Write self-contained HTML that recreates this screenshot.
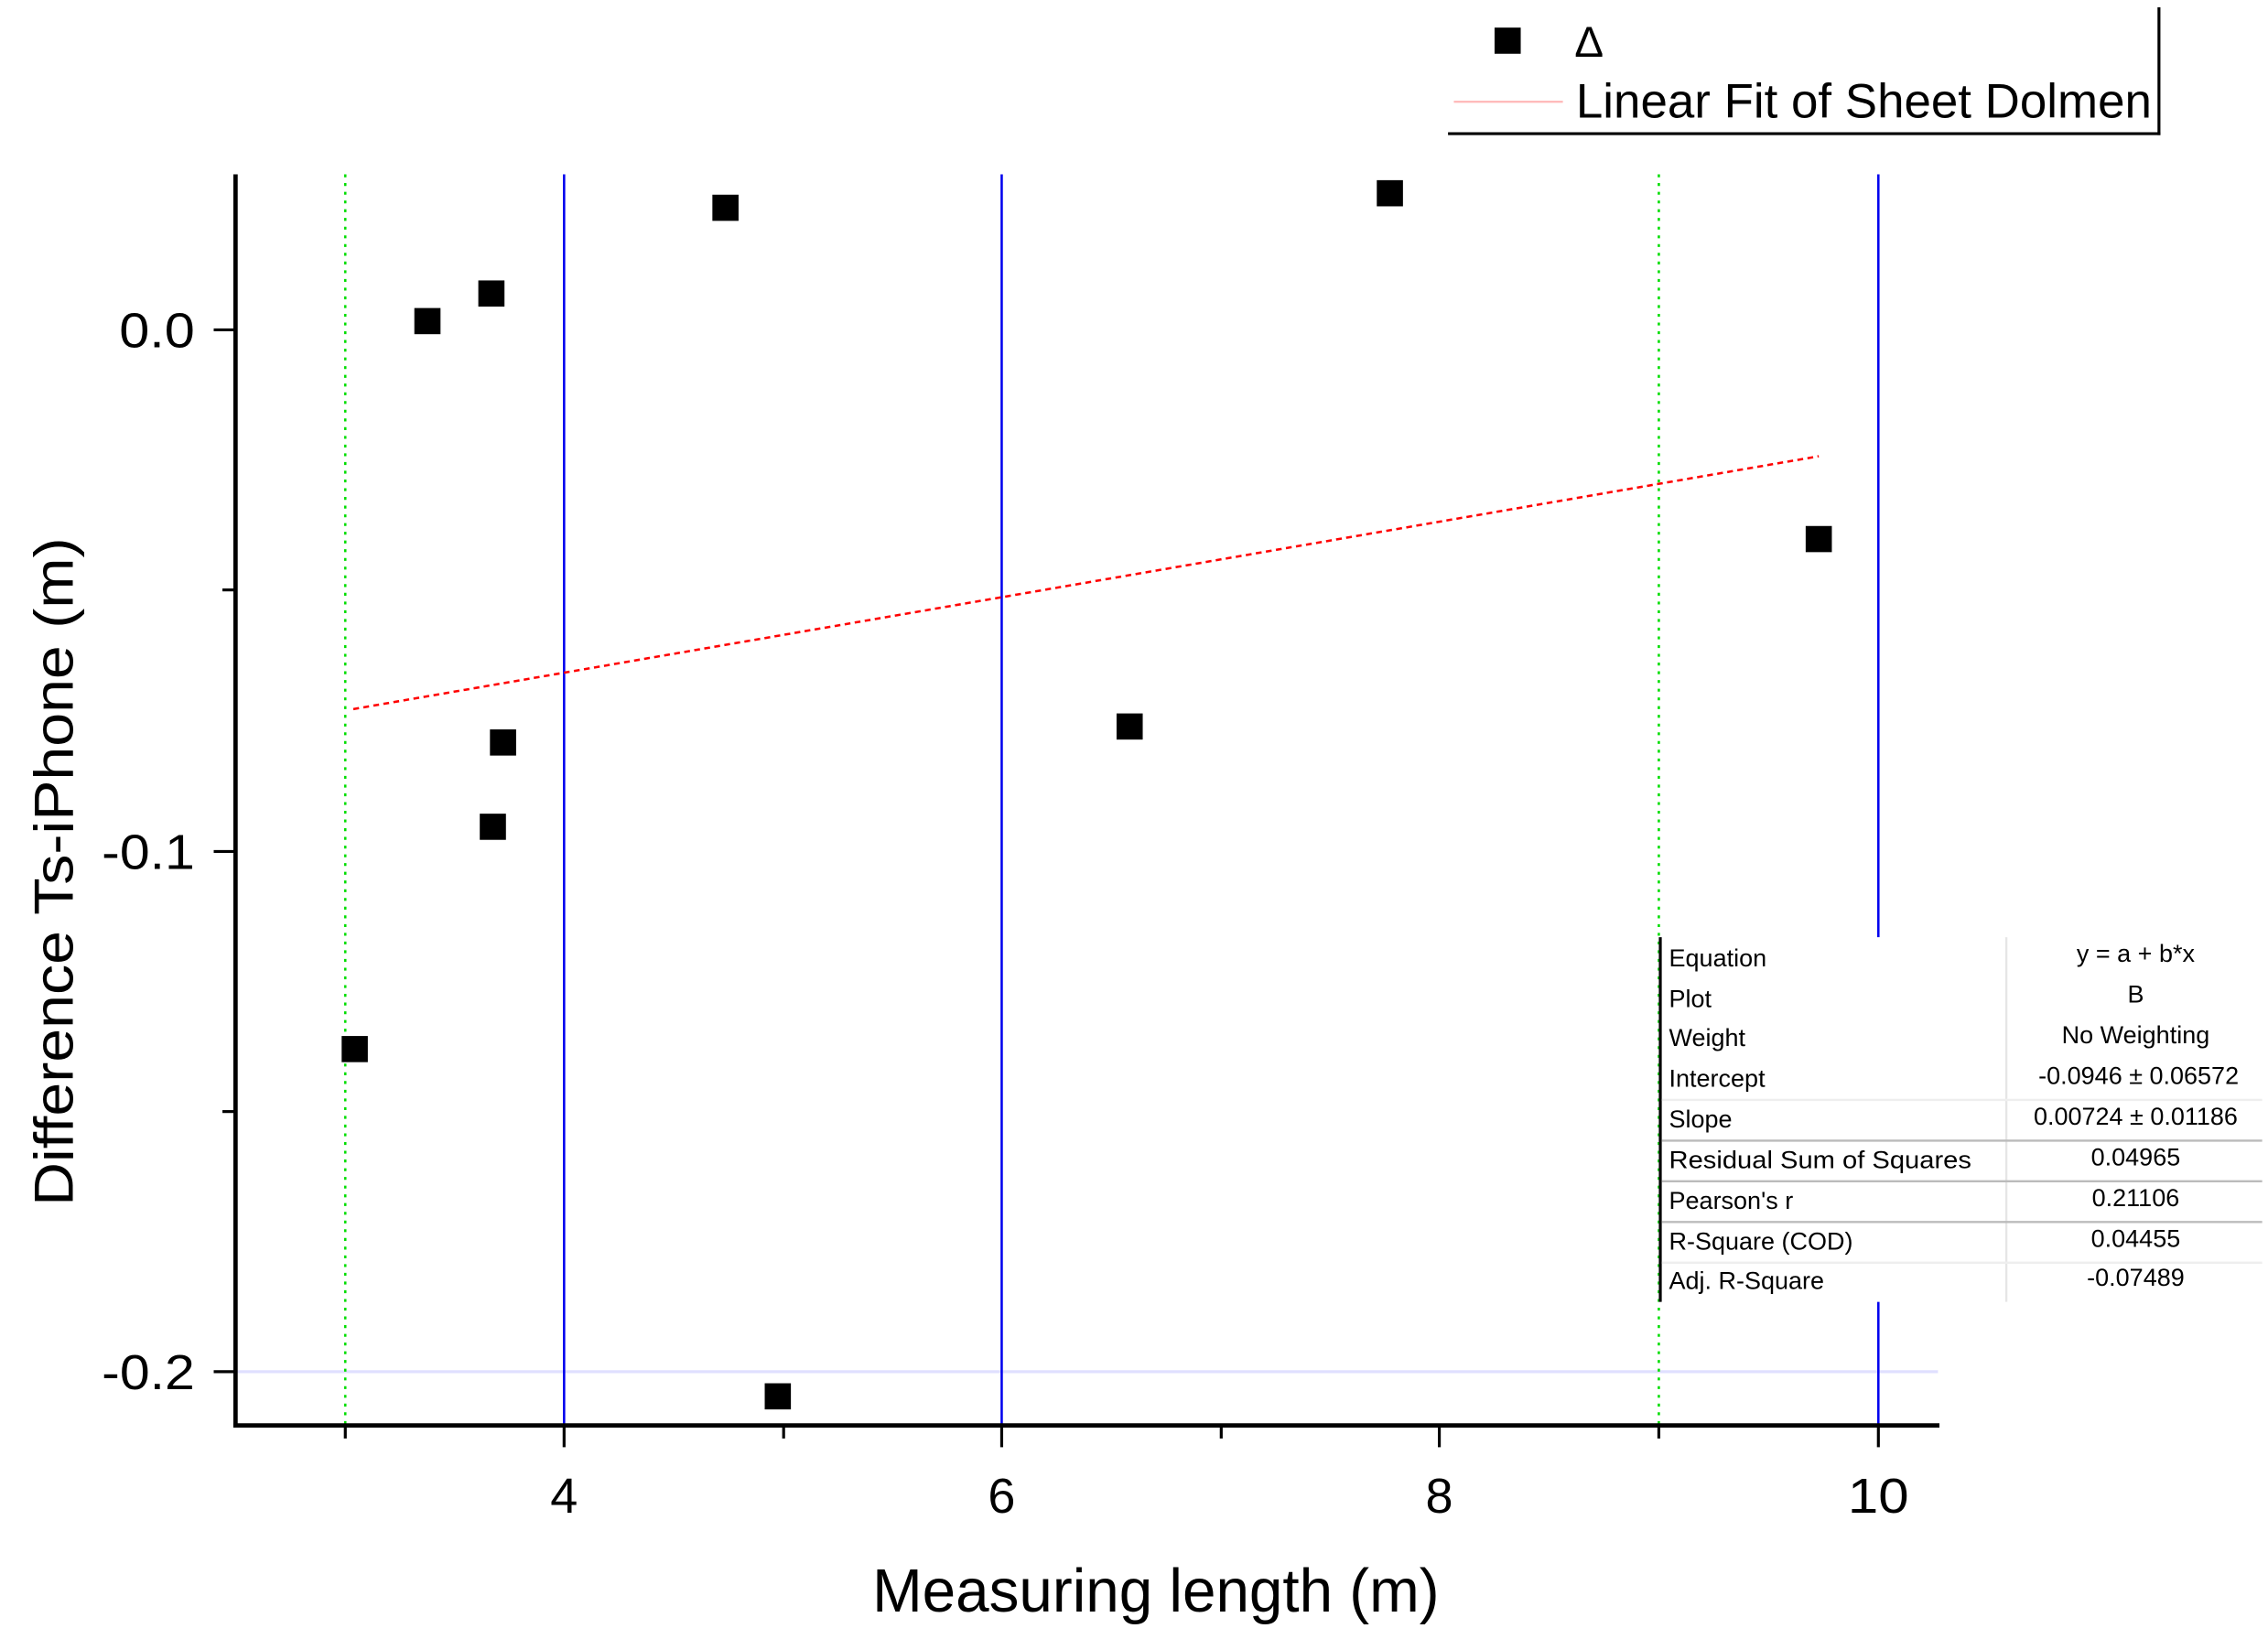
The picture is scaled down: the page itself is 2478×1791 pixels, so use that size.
<!DOCTYPE html>
<html><head><meta charset="utf-8"><style>html,body{margin:0;padding:0;background:#fff;}svg{display:block}</style></head>
<body>
<svg width="2478" height="1791" viewBox="0 0 1560 1128" preserveAspectRatio="none" xmlns="http://www.w3.org/2000/svg" font-family="Liberation Sans, Arial, sans-serif">
<rect width="1560" height="1128" fill="#fff"/>
<line x1="162" y1="944" x2="1333" y2="944" stroke="#e0e0ff" stroke-width="2"/>
<g stroke="#0000ee" stroke-width="1.6">
<line x1="388" y1="120" x2="388" y2="981"/>
<line x1="689" y1="120" x2="689" y2="981"/>
<line x1="1292" y1="120" x2="1292" y2="981"/>
</g>
<g stroke="#00dd00" stroke-width="1.6" stroke-dasharray="2,4">
<line x1="237.5" y1="120" x2="237.5" y2="981"/>
<line x1="1141" y1="120" x2="1141" y2="981"/>
</g>
<line x1="243" y1="488" x2="1251" y2="314" stroke="#ff0000" stroke-width="1.6" stroke-dasharray="4,3"/>
<g fill="#000">
<rect x="285" y="212" width="18" height="18"/>
<rect x="329" y="193" width="18" height="18"/>
<rect x="490" y="134" width="18" height="18"/>
<rect x="947" y="124" width="18" height="18"/>
<rect x="1242" y="362" width="18" height="18"/>
<rect x="768" y="491" width="18" height="18"/>
<rect x="337" y="502" width="18" height="18"/>
<rect x="330" y="560" width="18" height="18"/>
<rect x="235" y="713" width="18" height="18"/>
<rect x="526" y="952" width="18" height="18"/>
</g>
<g stroke="#000" stroke-width="3">
<line x1="162" y1="120" x2="162" y2="982.5"/>
<line x1="160.5" y1="981" x2="1334" y2="981"/>
</g>
<g stroke="#000" stroke-width="2">
<line x1="388" y1="981" x2="388" y2="996"/>
<line x1="689" y1="981" x2="689" y2="996"/>
<line x1="990" y1="981" x2="990" y2="996"/>
<line x1="1292" y1="981" x2="1292" y2="996"/>
<line x1="237.5" y1="981" x2="237.5" y2="990"/>
<line x1="539" y1="981" x2="539" y2="990"/>
<line x1="840" y1="981" x2="840" y2="990"/>
<line x1="1141" y1="981" x2="1141" y2="990"/>
<line x1="147" y1="227" x2="162" y2="227"/>
<line x1="147" y1="586" x2="162" y2="586"/>
<line x1="147" y1="944" x2="162" y2="944"/>
<line x1="153" y1="406" x2="162" y2="406"/>
<line x1="153" y1="765" x2="162" y2="765"/>
</g>
<g font-size="34" fill="#000" text-anchor="end">
<text x="134" y="239" textLength="52" lengthAdjust="spacingAndGlyphs">0.0</text>
<text x="134" y="598" textLength="64" lengthAdjust="spacingAndGlyphs">-0.1</text>
<text x="134" y="956" textLength="64" lengthAdjust="spacingAndGlyphs">-0.2</text>
</g>
<g font-size="34" fill="#000" text-anchor="middle">
<text x="388" y="1041">4</text>
<text x="689" y="1041">6</text>
<text x="990" y="1041">8</text>
<text x="1292" y="1041" textLength="42" lengthAdjust="spacingAndGlyphs">10</text>
</g>
<text x="600" y="1109" font-size="42" textLength="390" lengthAdjust="spacingAndGlyphs">Measuring length (m)</text>
<text transform="translate(50,830) rotate(-90)" font-size="38" textLength="460" lengthAdjust="spacingAndGlyphs">Difference Ts-iPhone (m)</text>
<line x1="1485" y1="5" x2="1485" y2="93" stroke="#000" stroke-width="2"/>
<line x1="996" y1="92" x2="1486" y2="92" stroke="#000" stroke-width="2"/>
<rect x="1028" y="19" width="18" height="18" fill="#000"/>
<text x="1083" y="39" font-size="30">Δ</text>
<line x1="1000" y1="70" x2="1075" y2="70" stroke="#ffbbbb" stroke-width="1.5"/>
<text x="1084" y="81" font-size="33" textLength="396" lengthAdjust="spacingAndGlyphs">Linear Fit of Sheet Dolmen</text>
<rect x="1141" y="645" width="419" height="251" fill="#fff"/>
<line x1="1142" y1="645" x2="1142" y2="896" stroke="#000" stroke-width="2"/>
<line x1="1380" y1="645" x2="1380" y2="896" stroke="#e6e6e6" stroke-width="1.5"/>
<g stroke-width="1.5">
<line x1="1143" y1="757" x2="1556" y2="757" stroke="#eee"/>
<line x1="1143" y1="785" x2="1556" y2="785" stroke="#bbb"/>
<line x1="1143" y1="813" x2="1556" y2="813" stroke="#bbb"/>
<line x1="1143" y1="841" x2="1556" y2="841" stroke="#bbb"/>
<line x1="1143" y1="869" x2="1556" y2="869" stroke="#eee"/>
</g>
<g font-size="17" fill="#000">
<text x="1148" y="665">Equation</text>
<text x="1148" y="693">Plot</text>
<text x="1148" y="720">Weight</text>
<text x="1148" y="748">Intercept</text>
<text x="1148" y="776">Slope</text>
<text x="1148" y="804" textLength="208" lengthAdjust="spacingAndGlyphs">Residual Sum of Squares</text>
<text x="1148" y="832">Pearson's r</text>
<text x="1148" y="860">R-Square (COD)</text>
<text x="1148" y="887">Adj. R-Square</text>
</g>
<g font-size="17" fill="#000" text-anchor="middle">
<text x="1469" y="662">y = a + b*x</text>
<text x="1469" y="690">B</text>
<text x="1469" y="718">No Weighting</text>
<text x="1471" y="746">-0.0946 ± 0.06572</text>
<text x="1469" y="774">0.00724 ± 0.01186</text>
<text x="1469" y="802">0.04965</text>
<text x="1469" y="830">0.21106</text>
<text x="1469" y="858">0.04455</text>
<text x="1469" y="885">-0.07489</text>
</g>
</svg>
</body></html>
